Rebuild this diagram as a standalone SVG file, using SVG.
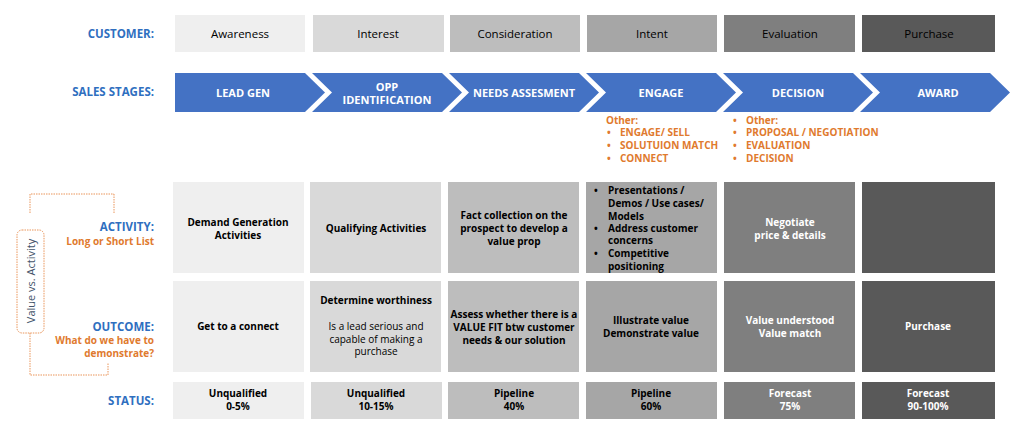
<svg xmlns="http://www.w3.org/2000/svg" width="1024" height="433" viewBox="0 0 1024 433">
<style>
text{font-family:"Open Sans","Liberation Sans",sans-serif;font-size:10px;text-anchor:middle}
.b{font-weight:bold}
.lab{fill:#2f6fbf;font-weight:bold;font-size:11.5px;text-anchor:end}
.or{fill:#e07a2e;font-weight:bold;font-size:10px}
.orr{fill:#e07a2e;font-weight:bold;font-size:10px;text-anchor:end}
.top{font-size:11.5px}
.ch{fill:#4472c4}
.cht{fill:#fff;font-weight:bold;font-size:11px}
.w{fill:#fff}
.l{text-anchor:start}
.c1{fill:#efefef}.c2{fill:#d9d9d9}.c3{fill:#bdbdbd}.c4{fill:#a6a6a6}.c5{fill:#7f7f7f}.c6{fill:#595959}
</style>
<text class="lab" x="154" y="38">CUSTOMER:</text>
<text class="lab" x="154" y="96">SALES STAGES:</text>
<text class="lab" x="154" y="231">ACTIVITY:</text>
<text class="orr" x="154" y="245">Long or Short List</text>
<text class="lab" x="154" y="331">OUTCOME:</text>
<text class="orr" x="154" y="344">What do we have to</text>
<text class="orr" x="154" y="357">demonstrate?</text>
<text class="lab" x="154" y="405">STATUS:</text>
<g id="value-bracket" fill="none" stroke="#e9955a" stroke-width="1" stroke-dasharray="1.5,1">
<path d="M114 194 V213"/><path d="M30 213 V194 H114"/>
<path d="M30 333 V375 H108 V363"/>
<rect x="17" y="230" width="27" height="103" rx="5"/>
</g>
<text x="35" y="281" transform="rotate(-90 35 281)" style="font-size:11px;fill:#44546a">Value vs. Activity</text>
<g id="customer">
<rect class="c1" x="175" y="15" width="130" height="37"/><text class="top" x="240" y="38">Awareness</text>
<rect class="c2" x="313" y="15" width="131" height="37"/><text class="top" x="378" y="38">Interest</text>
<rect class="c3" x="450" y="15" width="130" height="37"/><text class="top" x="515" y="38">Consideration</text>
<rect class="c4" x="587" y="15" width="130" height="37"/><text class="top" x="652" y="38">Intent</text>
<rect class="c5" x="724" y="15" width="131" height="37"/><text class="top" x="790" y="38">Evaluation</text>
<rect class="c6" x="862" y="15" width="133" height="37"/><text class="top" x="929" y="38">Purchase</text>
</g>
<g id="stages">
<polygon class="ch" points="175,73 305,73 325,92.5 305,112 175,112"/><text class="cht" x="243" y="97">LEAD GEN</text>
<polygon class="ch" points="312,73 442,73 462,92.5 442,112 312,112 332,92.5"/><text class="cht" x="387" y="91">OPP</text><text class="cht" x="387" y="104">IDENTIFICATION</text>
<polygon class="ch" points="449,73 579,73 599,92.5 579,112 449,112 469,92.5"/><text class="cht" x="524" y="97">NEEDS ASSESMENT</text>
<polygon class="ch" points="586,73 716,73 736,92.5 716,112 586,112 606,92.5"/><text class="cht" x="661" y="97">ENGAGE</text>
<polygon class="ch" points="723,73 853,73 873,92.5 853,112 723,112 743,92.5"/><text class="cht" x="798" y="97">DECISION</text>
<polygon class="ch" points="860,73 990,73 1010,92.5 990,112 860,112 880,92.5"/><text class="cht" x="938" y="97">AWARD</text>
</g>
<g id="other-engage">
<text class="or l" x="606" y="124">Other:</text>
<text class="or l" x="607" y="136">•</text><text class="or l" x="620" y="136">ENGAGE/ SELL</text>
<text class="or l" x="607" y="149">•</text><text class="or l" x="620" y="149">SOLUTUION MATCH</text>
<text class="or l" x="607" y="162">•</text><text class="or l" x="620" y="162">CONNECT</text>
</g>
<g id="other-decision">
<text class="or l" x="733" y="124">•</text><text class="or l" x="746" y="124">Other:</text>
<text class="or l" x="733" y="136">•</text><text class="or l" x="746" y="136">PROPOSAL / NEGOTIATION</text>
<text class="or l" x="733" y="149">•</text><text class="or l" x="746" y="149">EVALUATION</text>
<text class="or l" x="733" y="162">•</text><text class="or l" x="746" y="162">DECISION</text>
</g>
<g id="activity">
<rect class="c1" x="173" y="182" width="131" height="91"/><text class="b" x="238" y="226">Demand Generation</text><text class="b" x="238" y="239">Activities</text>
<rect class="c2" x="310" y="182" width="131" height="91"/><text class="b" x="376" y="232">Qualifying Activities</text>
<rect class="c3" x="448" y="182" width="131" height="91"/><text class="b" x="514" y="219">Fact collection on the</text><text class="b" x="514" y="232">prospect to develop a</text><text class="b" x="514" y="245">value prop</text>
<rect class="c4" x="586" y="182" width="131" height="91"/>
<text class="b l" x="594" y="194">•</text><text class="b l" x="608" y="194">Presentations /</text><text class="b l" x="608" y="207">Demos / Use cases/</text><text class="b l" x="608" y="220">Models</text>
<text class="b l" x="594" y="232">•</text><text class="b l" x="608" y="232">Address customer</text><text class="b l" x="608" y="244">concerns</text>
<text class="b l" x="594" y="257">•</text><text class="b l" x="608" y="257">Competitive</text><text class="b l" x="608" y="270">positioning</text>
<rect class="c5" x="724" y="182" width="131" height="91"/><text class="b w" x="790" y="226">Negotiate</text><text class="b w" x="790" y="239">price &amp; details</text>
<rect class="c6" x="862" y="182" width="133" height="91"/>
</g>
<g id="outcome">
<rect class="c1" x="173" y="281" width="131" height="91"/><text class="b" x="238" y="330">Get to a connect</text>
<rect class="c2" x="310" y="281" width="131" height="91"/><text class="b" x="376" y="304">Determine worthiness</text><text x="376" y="330">Is a lead serious and</text><text x="376" y="343">capable of making a</text><text x="376" y="355">purchase</text>
<rect class="c3" x="448" y="281" width="131" height="91"/><text class="b" x="514" y="318">Assess whether there is a</text><text class="b" x="514" y="331">VALUE FIT btw customer</text><text class="b" x="514" y="344">needs &amp; our solution</text>
<rect class="c4" x="586" y="281" width="131" height="91"/><text class="b" x="651" y="324">Illustrate value</text><text class="b" x="651" y="337">Demonstrate value</text>
<rect class="c5" x="724" y="281" width="131" height="91"/><text class="b w" x="790" y="324">Value understood</text><text class="b w" x="790" y="337">Value match</text>
<rect class="c6" x="862" y="281" width="133" height="91"/><text class="b w" x="928" y="330">Purchase</text>
</g>
<g id="status">
<rect class="c1" x="173" y="382" width="131" height="37"/><text class="b" x="238" y="397">Unqualified</text><text class="b" x="238" y="410">0-5%</text>
<rect class="c2" x="311" y="382" width="131" height="37"/><text class="b" x="376" y="397">Unqualified</text><text class="b" x="376" y="410">10-15%</text>
<rect class="c3" x="448" y="382" width="131" height="37"/><text class="b" x="514" y="397">Pipeline</text><text class="b" x="514" y="410">40%</text>
<rect class="c4" x="586" y="382" width="131" height="37"/><text class="b" x="651" y="397">Pipeline</text><text class="b" x="651" y="410">60%</text>
<rect class="c5" x="724" y="382" width="131" height="37"/><text class="b w" x="790" y="397">Forecast</text><text class="b w" x="790" y="410">75%</text>
<rect class="c6" x="862" y="382" width="133" height="37"/><text class="b w" x="928" y="397">Forecast</text><text class="b w" x="928" y="410">90-100%</text>
</g>
<g id="connectors"/>
</svg>
